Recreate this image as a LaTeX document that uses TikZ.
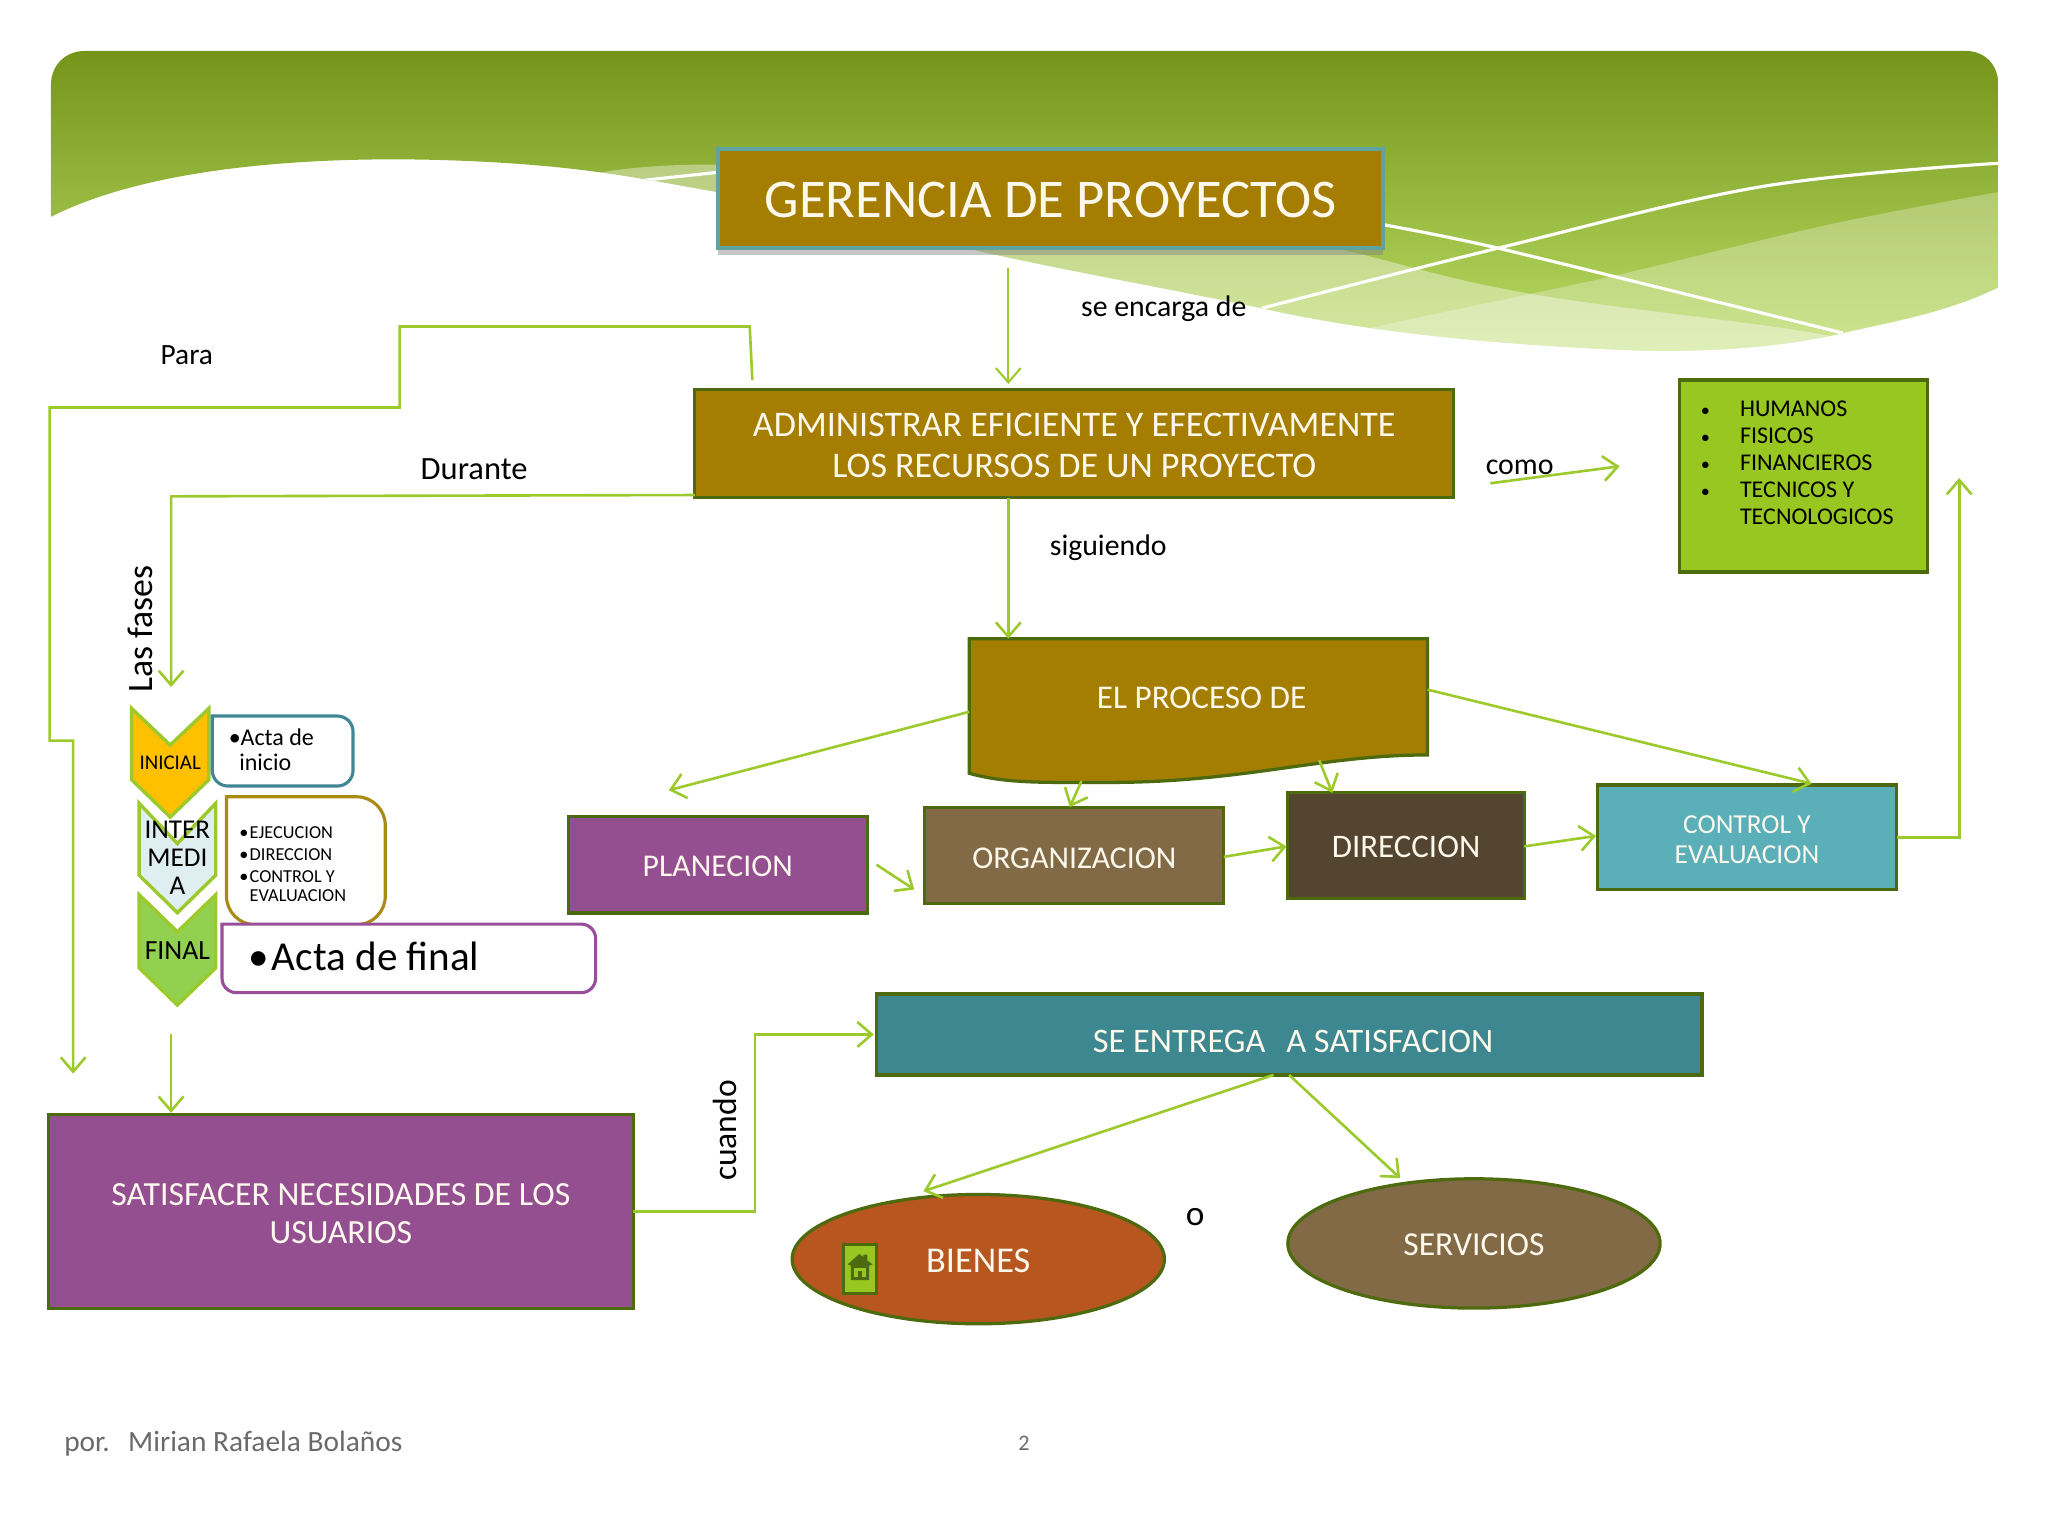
\documentclass[tikz,border=0pt]{standalone}
\usepackage{fontspec}
\setmainfont{Carlito}
\usetikzlibrary{arrows.meta, shadows, shapes.geometric}

\definecolor{linegreen}{HTML}{9CC92B}
\definecolor{darkedge}{HTML}{4E6A0E}
\definecolor{ocre}{HTML}{A57D00}
\definecolor{ocretwo}{HTML}{A37E00}
\definecolor{purplebox}{HTML}{944F90}
\definecolor{brownbox}{HTML}{826A47}
\definecolor{darkbrown}{HTML}{544530}
\definecolor{lightteal}{HTML}{5AAFB9}
\definecolor{darkteal}{HTML}{3C8790}
\definecolor{rust}{HTML}{B8561F}
\definecolor{limefill}{HTML}{99C722}
\definecolor{softwhite}{HTML}{FDF8EC}
\definecolor{bgtop}{HTML}{749519}
\definecolor{bgbottom}{HTML}{BBDC65}
\definecolor{titleedge}{HTML}{5FA3A0}
\definecolor{palecyan}{HTML}{DFEEF0}
\definecolor{amber}{HTML}{FFC000}
\definecolor{leaf}{HTML}{92D050}
\definecolor{edgeteal}{HTML}{3F8793}
\definecolor{edgegold}{HTML}{A88A14}
\definecolor{edgepurple}{HTML}{984F99}
\definecolor{footgray}{HTML}{6A6A6A}

\newcommand{\fs}[2]{\fontsize{#1}{#2}\selectfont}
\newcommand{\bul}{\makebox[30pt][l]{\fs{14}{14}\textbullet}}
\newcommand{\bgshape}{(39,166) -- (39,65) .. controls (39,50) and (50,39) .. (65,39)
  -- (1505,39) .. controls (1520,39) and (1530,50) .. (1530,65) -- (1530,220)
  .. controls (1490,240) and (1440,248) .. (1411,255)
  .. controls (1360,267) and (1300,270) .. (1245,268)
  .. controls (1150,264) and (1050,255) .. (966,236)
  .. controls (880,218) and (820,208) .. (753,193)
  .. controls (680,176) and (610,158) .. (549,147)
  .. controls (520,142) and (490,136) .. (460,132)
  .. controls (410,125) and (350,122) .. (301,122)
  .. controls (220,122) and (110,130) .. (39,166) -- cycle}

\begin{document}
\begin{tikzpicture}[x=1pt, y=-1pt, >={Straight Barb[length=11pt,width=19pt]}]
  \tikzset{
    box/.style={draw=darkedge, line width=2.5pt, inner sep=0pt, outer sep=0pt, align=center, text=softwhite},
    con/.style={draw=linegreen, line width=2pt, ->},
    lab/.style={inner sep=0pt, text=black},
    chev/.style={draw=linegreen, line width=2.6pt, line join=miter},
    side/.style={line width=2.4pt, fill=white},
    wline/.style={draw=white, line width=2.4pt}
  }
  \useasboundingbox (0,0) rectangle (1568,1176);

  % fondo
  \begin{scope}
    \clip \bgshape;
    \shade[top color=bgtop, bottom color=bgbottom] (39,39) rectangle (1530,268);
    \fill[white, opacity=.38] plot[smooth, tension=.6] coordinates {(460,132) (549,126) (800,135) (1027,191) (1172,225) (1406,258) (1500,290)} -- (1500,320) -- (460,320) -- cycle;
    \fill[white, opacity=.28] plot[smooth, tension=.6] coordinates {(1530,147) (1400,172) (1245,209) (1172,225) (1054,250) (950,275)} -- (950,320) -- (1530,320) -- cycle;
    \draw[wline] plot[smooth, tension=.6] coordinates {(966,236) (1147,190) (1348,143) (1530,125)};
    \draw[wline] plot[smooth, tension=.4] coordinates {(1059,172) (1147,190) (1411,255)};
    \draw[wline] (493,138) -- (549,132);
  \end{scope}

  % cajas
  \node[box, draw=titleedge, line width=3pt, fill=ocre, minimum width=509pt, minimum height=76pt,
    font=\fs{41.8}{48}, drop shadow={shadow xshift=0pt, shadow yshift=-5pt, opacity=.45}] (title) at (804.5,152) {\rule{0pt}{29pt}GERENCIA DE PROYECTOS};
  \node[box, fill=ocre, minimum width=581pt, minimum height=83pt, font=\fs{27.6}{31.5}] (admin) at (822.5,339.5)
    {\rule{0pt}{21pt}ADMINISTRAR EFICIENTE Y EFECTIVAMENTE\\LOS RECURSOS DE UN PROYECTO};
  \node[box, fill=limefill, minimum width=190pt, minimum height=147pt] (rec) at (1381,364.5) {};
  \node[lab, anchor=north west, align=left, font=\fs{18.4}{20.8}] (rectxt) at (1302,306.5)
    {\bul HUMANOS\\\bul FISICOS\\\bul FINANCIEROS\\\bul TECNICOS Y\\\makebox[30pt][l]{}TECNOLOGICOS};

  \draw[box, fill=ocretwo] (742,489) -- (1093,489) -- (1093,578) .. controls (1010,578) and (950,600) .. (842,599) .. controls (800,599) and (770,600) .. (742,592) -- cycle;
  \node[inner sep=0pt, outer sep=0pt, minimum width=351pt, minimum height=96pt, text=softwhite, font=\fs{25.4}{30}] (proc) at (917.5,537) {\hspace*{5pt}\raisebox{6pt}{EL PROCESO DE}};

  \node[box, fill=purplebox, minimum width=229pt, minimum height=74pt, font=\fs{24.3}{28}] (plan) at (549.5,662) {\rule{0pt}{17.6pt}PLANECION};
  \node[box, fill=brownbox, minimum width=229pt, minimum height=74pt, font=\fs{24.3}{28}] (org) at (822.5,655) {\rule{0pt}{19.6pt}ORGANIZACION};
  \node[box, fill=darkbrown, minimum width=181pt, minimum height=81pt, font=\fs{25.2}{30}] (dir) at (1076.5,647.5) {\rule{0pt}{18.2pt}DIRECCION};
  \node[box, fill=lightteal, minimum width=229pt, minimum height=80pt, font=\fs{21}{23}] (ctrl) at (1337.5,641) {\rule{0pt}{17pt}CONTROL Y\\EVALUACION};
  \node[box, fill=darkteal, minimum width=632pt, minimum height=62pt, font=\fs{26.3}{29}] (entrega) at (987,792) {\hspace*{6pt}\rule{0pt}{28pt}SE ENTREGA\hspace{16pt}A SATISFACION};
  \node[box, fill=purplebox, minimum width=448pt, minimum height=149pt, font=\fs{25.9}{29}] (satis) at (261,927.5) {\rule{0pt}{20pt}SATISFACER NECESIDADES DE LOS\\USUARIOS};
  \node[box, ellipse, fill=rust, minimum width=285pt, minimum height=99pt, font=\fs{27.8}{30}] (bienes) at (749,964) {\rule{0pt}{20pt}BIENES};
  \node[box, ellipse, fill=brownbox, minimum width=285pt, minimum height=99pt, font=\fs{25.7}{30}] (serv) at (1128.5,952) {\rule{0pt}{19pt}SERVICIOS};

  % icono de la casa
  \draw[draw=darkedge, line width=2.2pt, fill=limefill] (646,952.5) rectangle (671,990);
  \fill[darkedge] (649,968) -- (658,960) -- (661,962.5) -- (661,960.5) -- (664,960.5) -- (664,965) -- (668,968) -- (665.5,969) -- (665.5,980) -- (651.5,980) -- (651.5,969) -- cycle;
  \fill[limefill] (654,971) rectangle (663,977.5);
  \fill[darkedge] (657,973) rectangle (660,980);

  % fases
  \draw[chev, fill=palecyan] (106.5,615) -- (135.8,645.8) -- (165.2,615) -- (165.2,670) -- (135.8,698.8) -- (106.5,670) -- cycle;
  \draw[chev, fill=amber] (100.8,542.4) -- (130.3,570.4) -- (159.9,542.4) -- (159.9,597) -- (130.3,625.6) -- (100.8,597) -- cycle;
  \draw[chev, line width=1.6pt] (106.5,615) -- (135.8,645.8) -- (165.2,615);
  \draw[chev, fill=leaf] (106.5,685) -- (135.8,713.4) -- (165.2,685) -- (165.2,741) -- (135.8,769.5) -- (106.5,741) -- cycle;
  \node[lab, font=\fs{16}{18}] (inicial) at (130.3,584) {INICIAL};
  \node[lab, align=center, font=\fs{20.8}{21.5}] (inter) at (135.8,657) {INTER\\MEDI\\A};
  \node[lab, font=\fs{21.2}{24}] (final) at (135.8,728) {FINAL};

  \draw[side, draw=edgeteal] (162.5,548.2) [rounded corners=12pt] -- (270.3,548.2) -- (270.3,601.8) -- (162.5,601.8) [sharp corners] -- cycle;
  \node[lab, anchor=north west, align=left, font=\fs{18.4}{19}] (inicio) at (175,558) {\makebox[9pt][l]{\textbullet}Acta de\\\hspace{8pt}inicio};

  \draw[side, draw=edgegold] (173.4,610) [rounded corners=22pt] -- (295,610) -- (295,708) -- (173.4,708) [sharp corners] -- cycle;
  \node[lab, anchor=north west, align=left, font=\fs{14}{17}] (tareas) at (183,632.5)
    {\makebox[8pt][l]{\textbullet}EJECUCION\\\makebox[8pt][l]{\textbullet}DIRECCION\\\makebox[8pt][l]{\textbullet}CONTROL Y\\[-2.7pt]\makebox[8pt][l]{}EVALUACION};

  \draw[side, draw=edgepurple] (170,707.5) [rounded corners=11pt] -- (456,707.5) -- (456,760) -- (170,760) [sharp corners] -- cycle;
  \node[lab, anchor=west, font=\fs{31.5}{36}] (actafinal) at (190,732.5) {\makebox[18pt][l]{\textbullet}Acta de final};

  % etiquetas
  \node[lab, font=\fs{22.5}{25}] (para) at (143,272) {Para};
  \node[lab, font=\fs{22.8}{25}] (encarga) at (891,236) {se encarga de};
  \node[lab, font=\fs{24.9}{28}] (durante) at (363,359) {Durante};
  \node[lab, font=\fs{22.9}{26}] (como) at (1163.5,358) {como};
  \node[lab, font=\fs{22.8}{26}] (sig) at (848.5,419) {siguiendo};
  \node[lab, rotate=90, font=\fs{27.4}{30}] (fases) at (107.5,481.5) {Las fases};
  \node[lab, rotate=90, font=\fs{25.7}{27}] (cuando) at (555,865.5) {cuando};
  \node[lab, font=\fs{27}{30}] (o) at (915,932) {o};
  \node[lab, anchor=west, text=footgray, font=\fs{22.5}{25}] (autor) at (49,1105) {por.\hspace{14pt}Mirian Rafaela Bolaños};
  \node[lab, text=footgray, font=\fs{17}{18}] (pag) at (784,1105) {2};

  % extremos libres
  \coordinate (parafin) at (56,822);
  \coordinate (fasesfin) at (131,526);
  \coordinate (finalini) at (131,792);
  \coordinate (comoini) at (1141,370);
  \coordinate (comofin) at (1240,357);
  \coordinate (planfin) at (700,681);

  % conectores
  \draw[con, line width=1.6pt] ([shift={(-32.5,15)}]title.south) -- ([shift={(-50.5,-4)}]admin.north);
  \draw[con] ([shift={(-246.5,-7)}]admin.north) -- (574,250) -- (306,250) -- (306,312) -- (38,312) -- (38,567) -- (56,567) -- (parafin);
  \draw[con] ([shift={(0,39.5)}]admin.west) -- (131,380) -- (fasesfin);
  \draw[con] ([shift={(-50.5,0)}]admin.south) -- ([shift={(-145.5,0)}]proc.north);
  \draw[con] (comoini) -- (comofin);
  \draw[con] ([shift={(0,8)}]proc.west) -- ([shift={(-37.5,-20)}]plan.north);
  \draw[con] ([shift={(5.5,-20)}]org.north) -- ([shift={(-3.5,0)}]org.north);
  \draw[con] ([shift={(-66.5,-25)}]dir.north) -- ([shift={(-56.5,0)}]dir.north);
  \draw[con] ([shift={(0,-9)}]proc.east) -- ([shift={(49.5,-1)}]ctrl.north);
  \draw[con] ([shift={(7,0)}]plan.east) -- (planfin);
  \draw[con] ([shift={(0,1)}]org.east) -- ([shift={(-1,0.5)}]dir.west);
  \draw[con] ([shift={(0,0.5)}]dir.east) -- ([shift={(-1,-1)}]ctrl.west);
  \draw[con] (ctrl.east) -- (1500,641) -- ([shift={(24,1.5)}]rec.east);
  \draw[con] (finalini) -- ([shift={(-130,-1)}]satis.north);
  \draw[con] (satis.east) -- (578,927.5) -- (578,792) -- ([shift={(-2,0)}]entrega.west);
  \draw[con] ([shift={(-12,0)}]entrega.south) -- ([shift={(-42,-2.5)}]bienes.north);
  \draw[con] (entrega.south) -- ([shift={(-56.5,-0.5)}]serv.north);
\end{tikzpicture}
\end{document}
